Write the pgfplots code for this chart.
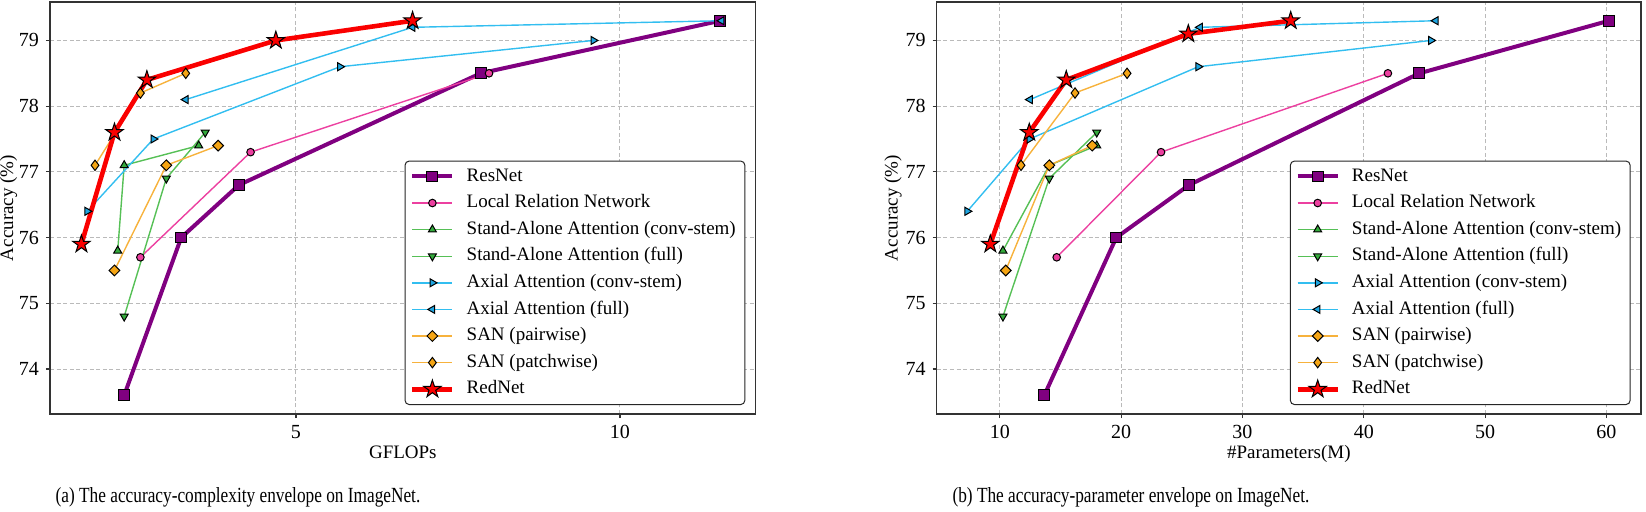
\documentclass[border=0pt]{standalone}
\usepackage{fontspec}
\setmainfont{Liberation Serif}
\usepackage{graphicx}
\usepackage{pgfplots}
\pgfplotsset{compat=1.18}
\usetikzlibrary{plotmarks}

\definecolor{cResNet}{RGB}{128,0,128}
\definecolor{cLRN}{RGB}{236,64,160}
\definecolor{cSASA}{RGB}{86,192,86}
\definecolor{cSASAm}{RGB}{52,170,60}
\definecolor{cAxial}{RGB}{50,190,240}
\definecolor{cAxialm}{RGB}{30,165,225}
\definecolor{cSAN}{RGB}{247,178,60}
\definecolor{cSANm}{RGB}{245,165,20}
\definecolor{cRed}{RGB}{250,0,0}

\pgfdeclareplotmark{fstar}{%
  \pgfpathmoveto{\pgfpointpolar{90}{\pgfplotmarksize}}%
  \pgfpathlineto{\pgfpointpolar{126}{0.382\pgfplotmarksize}}%
  \pgfpathlineto{\pgfpointpolar{162}{\pgfplotmarksize}}%
  \pgfpathlineto{\pgfpointpolar{198}{0.382\pgfplotmarksize}}%
  \pgfpathlineto{\pgfpointpolar{234}{\pgfplotmarksize}}%
  \pgfpathlineto{\pgfpointpolar{270}{0.382\pgfplotmarksize}}%
  \pgfpathlineto{\pgfpointpolar{306}{\pgfplotmarksize}}%
  \pgfpathlineto{\pgfpointpolar{342}{0.382\pgfplotmarksize}}%
  \pgfpathlineto{\pgfpointpolar{18}{\pgfplotmarksize}}%
  \pgfpathlineto{\pgfpointpolar{54}{0.382\pgfplotmarksize}}%
  \pgfpathclose
  \pgfusepathqfillstroke
}

\pgfplotsset{
  base/.style={
    scale only axis, height=206pt,
    ymin=73.315, ymax=79.585, ytick={74,75,76,77,78,79},
    grid=major,
    grid style={dash pattern=on 2pt off 1.3pt, black!27, line width=0.5pt},
    axis line style={black!80, line width=0.6pt},
    tick align=outside, tick pos=left, major tick length=2pt,
    tick style={black!80, line width=0.6pt},
    ticklabel style={font=\fontsize{10}{12}\selectfont},
    /pgf/number format/assume math mode=true,
    label style={font=\fontsize{9.5}{12}\selectfont},
    legend cell align=left,
    legend image code/.code={\draw[mark repeat=2,mark phase=2,##1] plot coordinates {(0pt,0pt) (10pt,0pt) (20pt,0pt)};},
    legend style={at={(1,0)}, anchor=south east, xshift=-5.2pt, yshift=4.5pt,
      draw=black!85, line width=0.5pt, rounded corners=2pt, fill=white,
      font=\fontsize{9.5}{11}\selectfont, inner xsep=2.5pt, inner ysep=1pt,
      row sep=0pt, column sep=4pt,
      nodes={inner sep=2pt, text height=7pt, text depth=2.3pt}},
  },
  sResNet/.style={color=cResNet, line width=2pt, mark=square*, mark size=2.7pt,
    mark options={fill=cResNet, draw=black, line width=0.5pt, solid, sharp corners}},
  sLRN/.style={color=cLRN, line width=0.7pt, mark=*, mark size=1.9pt,
    mark options={fill=cLRN, draw=black, line width=0.5pt, solid, sharp corners}},
  sSASAc/.style={color=cSASA, line width=0.7pt, mark=triangle*, mark size=2.3pt,
    mark options={fill=cSASAm, draw=black, line width=0.5pt, solid, sharp corners}},
  sSASAf/.style={color=cSASA, line width=0.7pt, mark=triangle*, mark size=2.3pt,
    mark options={fill=cSASAm, draw=black, line width=0.5pt, solid, sharp corners, rotate=180}},
  sAxc/.style={color=cAxial, line width=0.7pt, mark=triangle*, mark size=2.3pt,
    mark options={fill=cAxialm, draw=black, line width=0.5pt, solid, sharp corners, rotate=-90}},
  sAxf/.style={color=cAxial, line width=0.7pt, mark=triangle*, mark size=2.3pt,
    mark options={fill=cAxialm, draw=black, line width=0.5pt, solid, sharp corners, rotate=90}},
  sSANp/.style={color=cSAN, line width=0.7pt, mark=square*, mark size=1.9pt,
    mark options={fill=cSANm, draw=black, line width=0.5pt, solid, sharp corners, rotate=45}},
  sSANw/.style={color=cSAN, line width=0.7pt, mark=diamond*, mark size=2.6pt,
    mark options={fill=cSANm, draw=black, line width=0.5pt, solid, sharp corners}},
  sRed/.style={color=cRed, line width=2.3pt, mark=fstar, mark size=4.6pt,
    mark options={fill=cRed, draw=black, line width=0.5pt, solid, sharp corners}},
}

\begin{document}
\begin{tikzpicture}
\useasboundingbox (0,0) rectangle (823pt,-255.5pt);

\begin{axis}[base, at={(25pt,-207pt)}, anchor=south west, width=352.85pt,
  xmin=1.205, xmax=12.095, xtick={5,10},
  xlabel={GFLOPs}, ylabel={Accuracy (\%)},
  xlabel style={at={(axis description cs:0.5,-0.109)}, anchor=base},
  ylabel style={at={(axis description cs:-0.0588,0.5)}, anchor=center}]
\addplot[sResNet] coordinates {(2.35,73.6) (3.23,76.0) (4.12,76.8) (7.85,78.5) (11.55,79.3)};
\addlegendentry{ResNet}
\addplot[sLRN] coordinates {(2.6,75.7) (4.3,77.3) (7.98,78.5)};
\addlegendentry{Local Relation Network}
\addplot[sSASAc] coordinates {(2.25,75.8) (2.35,77.1) (3.5,77.4)};
\addlegendentry{Stand-Alone Attention (conv-stem)}
\addplot[sSASAf] coordinates {(2.35,74.8) (3.0,76.9) (3.6,77.6)};
\addlegendentry{Stand-Alone Attention (full)}
\addplot[sAxc] coordinates {(1.78,76.4) (2.8,77.5) (5.68,78.6) (9.59,79.0)};
\addlegendentry{Axial Attention (conv-stem)}
\addplot[sAxf] coordinates {(3.3,78.1) (6.8,79.2) (11.57,79.3)};
\addlegendentry{Axial Attention (full)}
\addplot[sSANp] coordinates {(2.2,75.5) (3.0,77.1) (3.8,77.4)};
\addlegendentry{SAN (pairwise)}
\addplot[sSANw] coordinates {(1.9,77.1) (2.6,78.2) (3.3,78.5)};
\addlegendentry{SAN (patchwise)}
\addplot[sRed] coordinates {(1.69,75.9) (2.2,77.6) (2.7,78.4) (4.69,79.0) (6.8,79.3)};
\addlegendentry{RedNet}
\end{axis}

\begin{axis}[base, at={(468.35pt,-207pt)}, anchor=south west, width=352.15pt,
  xmin=4.8, xmax=62.85, xtick={10,20,30,40,50,60},
  xlabel={\#Parameters(M)}, ylabel={Accuracy (\%)},
  xlabel style={at={(axis description cs:0.5,-0.109)}, anchor=base},
  ylabel style={at={(axis description cs:-0.062,0.5)}, anchor=center}]
\addplot[sResNet] coordinates {(13.67,73.6) (19.6,76.0) (25.6,76.8) (44.58,78.5) (60.21,79.3)};
\addlegendentry{ResNet}
\addplot[sLRN] coordinates {(14.69,75.7) (23.29,77.3) (41.99,78.5)};
\addlegendentry{Local Relation Network}
\addplot[sSASAc] coordinates {(10.26,75.8) (14.08,77.1) (17.99,77.4)};
\addlegendentry{Stand-Alone Attention (conv-stem)}
\addplot[sSASAf] coordinates {(10.26,74.8) (14.08,76.9) (17.99,77.6)};
\addlegendentry{Stand-Alone Attention (full)}
\addplot[sAxc] coordinates {(7.32,76.4) (12.45,77.5) (26.36,78.6) (45.54,79.0)};
\addlegendentry{Axial Attention (conv-stem)}
\addplot[sAxf] coordinates {(12.49,78.1) (26.5,79.2) (45.93,79.3)};
\addlegendentry{Axial Attention (full)}
\addplot[sSANp] coordinates {(10.49,75.5) (14.08,77.1) (17.62,77.4)};
\addlegendentry{SAN (pairwise)}
\addplot[sSANw] coordinates {(11.75,77.1) (16.2,78.2) (20.49,78.5)};
\addlegendentry{SAN (patchwise)}
\addplot[sRed] coordinates {(9.22,75.9) (12.43,77.6) (15.48,78.4) (25.54,79.1) (33.98,79.3)};
\addlegendentry{RedNet}
\end{axis}

\node[anchor=base, font=\fontsize{10.8}{12}\selectfont] at (119pt,-251pt) {\scalebox{0.8}[1]{(a) The accuracy-complexity envelope on ImageNet.}};
\node[anchor=base, font=\fontsize{10.8}{12}\selectfont] at (565.5pt,-251pt) {\scalebox{0.8}[1]{(b) The accuracy-parameter envelope on ImageNet.}};
\end{tikzpicture}
\end{document}
